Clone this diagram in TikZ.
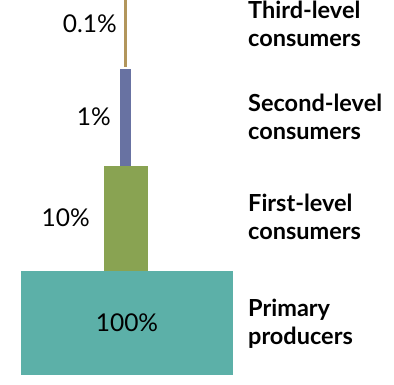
\documentclass[tikz,border=0pt]{standalone}
\usepackage{fontspec}
\setmainfont{Lato}
\definecolor{tan}{RGB}{178,150,92}
\definecolor{lav}{RGB}{104,114,162}
\definecolor{olive}{RGB}{137,163,82}
\definecolor{teal2}{RGB}{92,176,168}
\begin{document}
\begin{tikzpicture}[x=1pt,y=-1pt,
  bar/.style={draw=none,inner sep=0pt,outer sep=0pt},
  pct/.style={font=\fontsize{24.5}{26}\selectfont,inner sep=0pt},
  lvl/.style={font=\bfseries\fontsize{23.5}{28}\selectfont,align=left,anchor=west,inner sep=0pt}]
\useasboundingbox (0,0) rectangle (394,384);
\fill[teal2] (21,271) rectangle (233,375);
\node[bar,minimum width=212pt,minimum height=104pt] (prim) at (127,323) {};
\fill[olive] (104,166) rectangle (148,271);
\node[bar] (first) at (126,218) {};
\fill[lav] (120,69) rectangle (131,166);
\node[bar] (second) at (125.5,117) {};
\fill[tan] (124,0) rectangle (127,67);
\node[bar] (third) at (125.5,33) {};
\node[pct] (p100) at (127,323) {100\%};
\node[pct,anchor=east] (p10) at (90,218) {10\%};
\node[pct,anchor=east] (p1) at (111,117) {1\%};
\node[pct,anchor=east] (p01) at (117,24) {0.1\%};
\node[lvl] (l3) at (248,24) {Third-level\\consumers};
\node[lvl] (l2) at (248,117) {Second-level\\consumers};
\node[lvl] (l1) at (248,217) {First-level\\consumers};
\node[lvl] (l0) at (248,324) {Primary\\producers};
\end{tikzpicture}
\end{document}
